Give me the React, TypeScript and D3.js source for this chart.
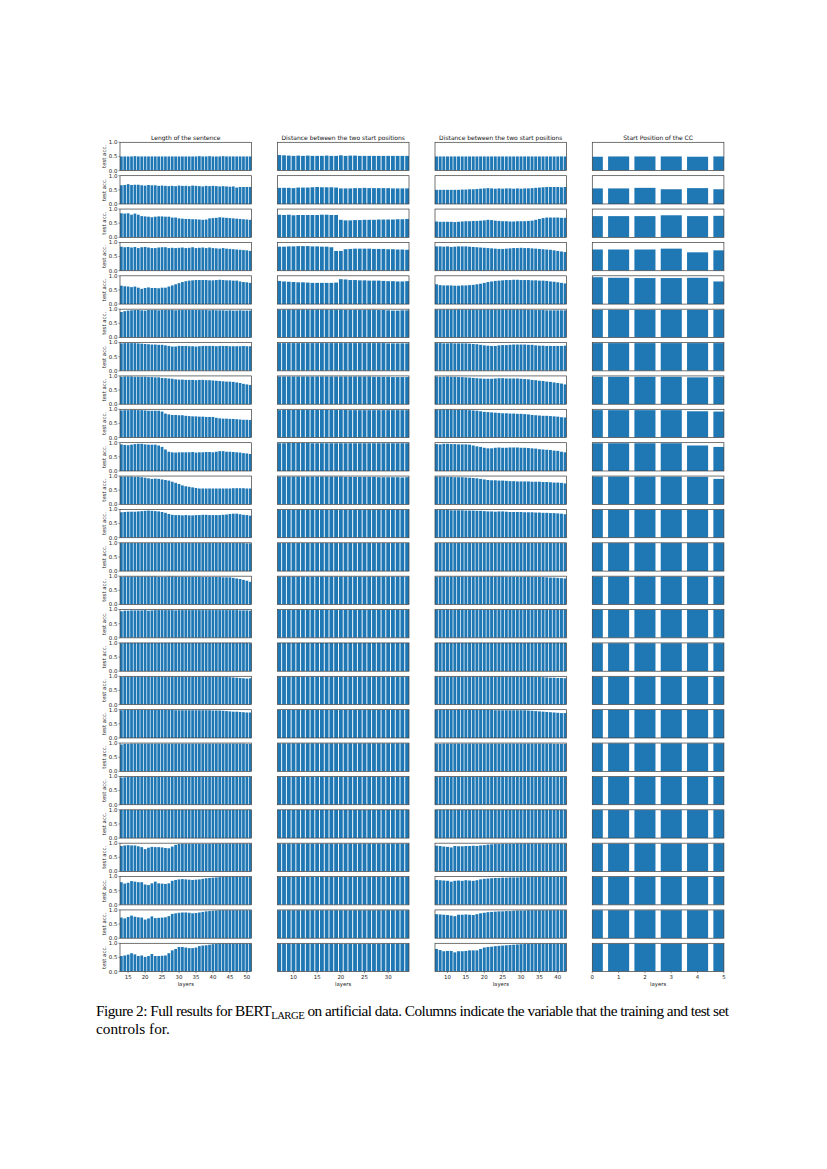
import React from 'react';
import * as d3 from 'd3';

// ---------- categories ----------
const titles = [
  'Length of the sentence',
  'Distance between the two start positions',
  'Distance between the two start positions',
  'Start Position of the CC',
];
const layersLength = [13,14,15,16,17,18,19,20,21,22,23,24,25,26,27,28,29,30,31,32,33,34,35,36,37,38,39,40,41,42,43,44,45,46,47,48,49,50,51];
const layersDistA = [7,8,9,10,11,12,13,14,15,16,17,18,19,20,21,22,23,24,25,26,27,28,29,30,31,32,33,34];
const layersDistB = [7,8,9,10,11,12,13,14,15,16,17,18,19,20,21,22,23,24,25,26,27,28,29,30,31,32,33,34,35,36,37,38,39,40,41,42];
const positionsCC = [0,1,2,3,4,5];

const ticksLength = [15,20,25,30,35,40,45,50];
const ticksDistA = [10,15,20,25,30];
const ticksDistB = [10,15,20,25,30,35,40];
const ticksCC = [0,1,2,3,4,5];
const yTicks = [0, 0.5, 1.0];

// ---------- values (test accuracy, percent) ----------
const accLength: number[][] = [
  [50,50,50,50,51,50,50,50,50,50,50,50,50,50,50,50,50,50,50,50,50,50,50,51,50,50,51,50,50,50,51,50,50,50,50,50,50,50,50],
  [66,67,70,67,68,68,66,65,67,66,66,64,65,64,63,64,63,65,64,64,63,65,64,63,62,64,63,64,63,62,63,62,61,62,58,60,60,60,60],
  [85,84,85,80,84,80,75,74,73,71,73,74,74,73,73,70,70,67,66,65,65,64,64,63,62,63,67,68,69,71,70,69,68,67,66,65,64,63,62],
  [85,83,84,82,84,80,83,84,82,80,80,82,83,83,80,81,80,81,82,80,81,83,80,81,82,80,82,80,79,78,80,78,77,76,75,74,73,72,70],
  [65,63,62,60,62,58,54,57,59,57,57,56,58,58,62,66,70,74,78,81,83,84,85,85,85,85,84,84,85,86,85,84,84,83,83,80,78,77,75],
  [90,93,95,96,97,97,96,95,97,97,97,96,97,97,97,97,96,97,97,97,97,97,97,97,97,97,96,97,96,96,96,95,96,95,95,96,95,95,95],
  [97,98,98,98,98,97,96,95,94,93,93,92,92,90,88,86,86,88,88,88,87,87,86,87,88,88,88,88,87,88,88,88,87,87,87,87,88,87,87],
  [97,98,98,98,97,97,97,97,96,96,95,95,93,92,91,90,88,87,87,86,86,86,85,86,86,85,85,84,83,82,81,80,80,79,77,75,72,70,68],
  [96,97,97,98,98,97,97,96,95,95,95,95,92,85,82,80,80,79,79,77,76,75,75,74,74,73,73,73,70,68,67,67,66,66,65,64,63,63,62],
  [94,92,91,93,95,96,96,94,93,93,93,90,85,76,68,66,65,66,66,66,66,67,65,66,66,67,67,66,68,70,70,68,68,67,66,65,63,62,60],
  [98,98,98,98,97,97,96,94,92,90,91,90,88,86,84,80,76,72,67,64,62,60,58,56,56,56,56,56,56,56,56,56,56,57,57,57,57,56,56],
  [90,91,92,92,92,93,94,95,96,95,94,93,91,88,84,81,80,80,79,80,79,79,80,80,81,81,80,80,80,80,81,82,84,85,85,83,81,80,78],
  [99,99,99,99,99,99,99,99,99,99,99,99,99,99,99,99,99,99,99,99,99,99,99,99,99,99,99,99,99,99,99,99,99,99,99,99,99,98,98],
  [98,99,99,99,99,99,99,99,99,99,99,98,98,98,99,99,99,98,98,98,98,98,98,98,97,97,97,97,97,97,96,96,96,94,92,90,87,84,80],
  [94,96,96,97,97,97,97,98,96,97,98,98,98,98,98,98,97,98,98,98,98,98,98,98,98,98,98,98,98,98,98,98,98,98,98,97,97,97,96],
  [99,100,100,100,100,100,100,100,100,100,100,100,100,100,100,100,100,100,100,100,100,100,100,100,100,100,100,100,100,100,100,100,100,100,100,100,100,100,99],
  [98,99,99,99,99,99,99,99,99,99,99,99,99,99,99,99,99,99,99,99,99,99,99,99,99,99,99,99,99,99,98,98,97,96,95,94,93,92,93],
  [98,99,99,99,99,99,99,99,99,99,99,99,99,99,99,99,98,98,98,98,98,98,98,98,98,98,98,97,97,97,96,95,94,93,93,92,91,90,90],
  [95,97,97,98,98,98,98,98,98,98,98,98,98,98,98,98,98,98,98,98,98,98,98,98,98,98,98,98,98,98,98,98,98,98,98,98,98,97,97],
  [96,97,98,98,99,99,99,99,99,99,99,99,99,99,99,99,99,99,99,99,99,99,99,99,99,99,99,99,99,99,99,99,99,99,99,99,99,99,99],
  [100,100,100,100,100,100,100,100,100,100,100,100,100,100,100,100,100,100,100,100,100,100,100,100,100,100,100,100,100,100,100,100,100,100,100,100,100,100,100],
  [90,92,93,92,92,89,86,79,84,87,86,86,85,83,82,88,94,97,98,98,98,98,98,98,98,98,98,99,99,99,99,99,99,99,99,99,99,99,99],
  [80,75,78,84,82,80,80,72,70,76,82,76,75,74,76,85,88,90,91,90,89,88,89,90,92,94,95,96,97,98,99,99,99,99,99,99,99,99,99],
  [73,70,75,80,76,74,73,66,70,77,71,72,73,74,78,86,88,90,91,91,90,88,89,91,93,95,96,97,98,99,99,99,99,99,99,99,99,99,99],
  [55,57,60,65,61,55,57,52,55,62,55,55,56,57,65,75,80,87,87,85,83,83,85,90,92,93,95,97,98,99,99,99,99,99,99,99,99,99,99],
];

const accDistA: number[][] = [
  [55,54,53,52,53,52,53,52,52,52,53,52,52,54,52,53,53,52,52,52,52,52,52,52,52,52,52,52],
  [57,57,57,56,58,58,58,59,60,59,59,59,58,55,55,55,56,56,57,56,56,56,56,56,55,55,55,55],
  [80,79,80,78,79,79,79,79,79,80,80,79,79,62,60,60,61,61,62,62,62,63,63,63,63,64,64,65],
  [85,85,86,86,87,87,87,86,86,85,85,83,70,70,76,77,78,78,78,78,77,77,77,76,76,75,75,74],
  [82,80,79,78,77,77,76,75,75,75,75,75,76,88,87,85,85,84,84,83,83,83,82,81,81,80,80,81],
  [99,99,99,99,99,99,99,99,99,99,99,99,99,99,98,98,98,98,98,98,98,97,97,96,95,95,96,96],
  [98,98,98,98,98,98,98,98,98,98,98,98,98,98,98,98,98,98,98,98,98,98,98,97,97,97,97,97],
  [98,98,98,98,98,98,98,98,98,98,98,98,98,98,98,98,98,98,98,98,97,97,97,97,96,96,96,96],
  [97,98,98,98,98,98,98,98,98,98,98,98,98,98,98,97,97,97,97,97,97,97,97,97,97,97,97,97],
  [98,98,99,99,99,99,99,98,98,98,98,98,98,98,98,98,98,98,98,98,98,98,98,98,98,98,98,98],
  [98,98,98,98,98,98,98,98,98,98,98,98,98,98,97,97,97,97,97,97,97,96,96,96,96,96,95,96],
  [99,99,99,99,99,99,99,99,99,99,99,99,99,99,99,99,99,99,99,99,99,99,99,99,99,99,99,99],
  [99,99,99,99,99,99,99,99,99,99,99,99,99,99,99,99,99,99,99,99,99,99,99,99,99,99,99,99],
  [99,99,99,99,99,99,99,99,99,99,99,99,99,99,99,99,99,99,99,99,99,99,99,99,99,99,99,99],
  [99,99,99,99,99,99,99,99,99,99,99,99,99,99,99,99,99,99,99,99,99,99,99,99,99,99,99,99],
  [100,100,100,100,100,100,100,100,100,100,100,100,100,100,100,100,100,100,100,100,100,100,100,100,100,100,100,100],
  [99,99,99,99,99,99,99,99,99,99,99,99,99,99,99,99,99,99,99,99,99,99,99,99,99,99,99,99],
  [99,99,99,99,99,99,99,99,99,99,99,99,99,99,99,99,99,99,99,99,99,99,99,99,99,99,99,99],
  [99,99,99,99,99,99,99,99,99,99,99,99,99,99,99,99,99,99,99,99,99,99,99,99,99,99,99,99],
  [99,99,99,99,99,99,99,99,99,99,99,99,99,99,99,99,99,99,99,99,99,99,99,99,99,99,99,99],
  [100,100,100,100,100,100,100,100,100,100,100,100,100,100,100,100,100,100,100,100,100,100,100,100,100,100,100,100],
  [99,99,99,99,99,99,99,99,99,99,99,99,99,99,99,99,99,99,99,99,99,99,99,99,99,99,99,99],
  [99,99,99,99,99,99,99,99,99,99,99,99,99,99,99,99,99,99,99,99,99,99,99,99,99,99,99,99],
  [99,99,99,99,99,99,99,99,99,99,99,99,99,99,99,99,99,99,99,99,99,99,99,99,99,99,99,99],
  [99,99,99,99,99,99,99,99,99,99,99,99,99,98,98,98,98,98,98,98,98,98,99,99,99,99,99,99],
];

const accDistB: number[][] = [
  [50,50,50,50,50,50,50,50,50,50,50,50,50,50,50,50,50,50,50,50,50,50,50,50,50,50,50,50,50,50,50,50,50,50,50,50],
  [50,50,50,50,50,50,50,51,51,52,52,53,54,55,56,55,54,55,54,55,55,54,55,54,55,55,56,57,58,59,60,60,60,60,59,60],
  [56,55,55,55,55,54,55,56,57,57,58,58,59,60,62,61,59,58,57,57,56,56,57,57,57,58,59,62,65,68,70,70,70,70,69,69],
  [86,86,85,86,84,85,86,86,86,85,84,83,82,81,80,79,78,77,77,78,79,80,80,81,80,80,79,78,77,76,75,74,72,70,68,66],
  [70,67,66,66,66,65,65,66,66,67,68,70,72,75,78,80,82,83,84,85,85,86,86,85,85,85,84,84,83,83,82,80,79,77,75,73],
  [99,99,99,99,99,99,99,99,99,99,99,99,99,99,99,99,99,99,99,99,99,99,99,99,99,98,98,97,97,97,96,96,96,96,96,96],
  [98,98,97,97,98,97,97,97,97,96,95,94,92,90,89,88,88,90,91,91,92,93,93,93,93,92,92,90,89,89,88,88,88,88,88,89],
  [98,97,97,98,97,97,96,96,95,94,93,92,91,90,90,90,91,92,92,91,91,91,91,90,89,88,86,85,83,82,80,79,77,75,73,70],
  [98,98,99,99,99,98,98,98,98,97,96,95,93,91,90,89,88,87,86,86,85,85,84,84,83,82,80,79,78,77,77,76,75,74,72,71],
  [95,94,96,96,95,95,94,94,94,93,90,87,85,82,80,80,82,83,82,82,83,83,83,82,82,81,80,79,77,76,75,74,72,71,68,66],
  [98,98,98,97,97,96,96,96,95,94,93,92,90,88,86,85,85,84,84,83,82,82,81,81,81,81,80,80,80,79,79,78,77,77,76,74],
  [98,98,98,98,97,97,97,97,96,96,96,95,95,94,93,93,92,93,93,92,91,91,91,91,90,90,90,89,89,88,88,87,87,86,85,83],
  [99,99,99,99,99,99,99,99,99,99,99,99,99,99,99,99,99,99,99,99,99,99,99,99,99,99,99,99,99,99,99,99,99,99,99,99],
  [98,99,99,99,99,99,99,99,99,99,99,99,99,99,99,99,99,99,99,98,98,98,98,98,98,98,98,98,97,97,96,95,95,94,93,92],
  [99,99,99,99,99,99,99,99,99,99,99,99,99,99,99,99,99,99,99,99,99,99,99,99,99,99,99,99,99,99,99,99,99,99,99,99],
  [100,100,100,100,100,100,100,100,100,100,100,100,100,100,100,100,100,100,100,100,100,100,100,100,100,100,100,100,100,100,100,100,100,100,100,100],
  [99,99,99,99,99,99,99,99,99,99,99,99,99,99,99,99,99,99,99,99,99,99,99,99,99,99,99,98,98,97,96,95,95,94,94,93],
  [99,99,99,99,99,99,99,99,99,99,99,99,99,99,99,99,98,98,98,98,98,98,98,98,98,97,96,95,94,93,92,91,90,89,88,88],
  [97,97,98,98,98,98,98,98,98,98,98,98,98,98,98,98,98,98,98,98,98,98,98,98,98,98,98,98,98,98,98,98,97,97,97,97],
  [99,99,99,99,99,99,99,99,99,99,99,99,99,99,99,99,99,99,99,99,99,99,99,99,99,99,99,99,99,99,99,99,99,99,99,99],
  [100,100,100,100,100,100,100,100,100,100,100,100,100,100,100,100,100,100,100,100,100,100,100,100,100,100,100,100,100,100,100,100,100,100,100,100],
  [91,90,88,87,85,90,89,89,90,90,91,90,92,93,95,96,97,97,98,98,98,98,99,99,99,99,99,99,99,99,99,99,99,99,99,99],
  [88,87,86,85,82,85,86,85,87,86,85,87,90,92,93,94,95,95,96,96,97,97,97,98,98,98,99,99,99,99,99,99,99,99,99,99],
  [85,84,83,82,80,78,83,83,84,83,82,85,88,90,92,93,94,95,95,96,96,97,98,98,98,99,99,99,99,99,99,99,99,99,99,99],
  [80,76,72,73,73,68,72,72,73,75,75,75,80,85,87,88,90,91,92,93,94,95,96,97,98,98,99,99,99,99,99,99,99,99,99,99],
];

const accCC: number[][] = [
  [49,50,50,50,49,50],
  [55,55,57,52,56,52],
  [75,75,75,78,75,76],
  [75,75,75,78,65,72],
  [95,93,92,92,93,80],
  [98,98,98,98,98,98],
  [98,98,98,98,98,98],
  [97,97,97,97,95,97],
  [97,97,97,97,93,92],
  [98,98,98,98,90,85],
  [98,98,98,98,97,90],
  [99,99,99,99,99,99],
  [99,99,99,99,99,99],
  [99,99,99,99,99,99],
  [99,99,99,99,99,99],
  [99,99,99,99,99,99],
  [99,99,99,99,99,99],
  [99,99,99,99,99,99],
  [99,99,99,99,99,99],
  [99,99,99,99,99,99],
  [99,99,99,99,99,99],
  [99,99,99,99,99,99],
  [99,99,99,99,99,99],
  [99,99,99,99,99,99],
  [99,99,99,99,99,99],
];

// ---------- layout ----------
const W = 827;
const H = 1169;
const colLeft = [120, 277.4, 435, 592.3];
const axW = 131.6;
const rowTop0 = 142.3;
const rowPitch = 33.375;
const axH = 28.3;
const BAR = '#1f77b4';
const FONT = 'DejaVu Sans, sans-serif';

type ColSpec = { cats: number[]; vals: number[][]; ticks: number[]; domain: [number, number] };

const columns: ColSpec[] = [
  { cats: layersLength, vals: accLength, ticks: ticksLength, domain: [12.6, 51.4] },
  { cats: layersDistA, vals: accDistA, ticks: ticksDistA, domain: [6.6, 34.4] },
  { cats: layersDistB, vals: accDistB, ticks: ticksDistB, domain: [6.6, 42.4] },
  { cats: positionsCC, vals: accCC, ticks: ticksCC, domain: [0, 5] },
];

export default function App() {
  const nRows = accLength.length;
  const panels: React.ReactNode[] = [];

  columns.forEach((col, ci) => {
    const x = d3.scaleLinear().domain(col.domain).range([colLeft[ci], colLeft[ci] + axW]);
    const bw = 0.8;
    for (let ri = 0; ri < nRows; ri++) {
      const top = rowTop0 + ri * rowPitch;
      const y = d3.scaleLinear().domain([0, 1]).range([top + axH, top]);
      const clipId = `clip-${ci}-${ri}`;
      const row = col.vals[ri];
      panels.push(
        <g key={`p-${ci}-${ri}`}>
          <clipPath id={clipId}>
            <rect x={colLeft[ci]} y={top} width={axW} height={axH} />
          </clipPath>
          <g clipPath={`url(#${clipId})`}>
            {col.cats.map((c, i) => (
              <rect
                key={i}
                x={x(c - bw / 2)}
                y={y(row[i] / 100)}
                width={x(c + bw / 2) - x(c - bw / 2)}
                height={y(0) - y(row[i] / 100)}
                fill={BAR}
              />
            ))}
          </g>
          <rect x={colLeft[ci]} y={top} width={axW} height={axH} fill="none" stroke="#3a3a3a" strokeWidth={0.7} />
          {ci === 0 &&
            yTicks.map((t) => (
              <g key={`yt${t}`}>
                <line x1={colLeft[0] - 1.6} x2={colLeft[0]} y1={y(t)} y2={y(t)} stroke="#3a3a3a" strokeWidth={0.5} />
                <text x={colLeft[0] - 2.6} y={y(t) + 1.9} fontSize={5.4} textAnchor="end" fontFamily={FONT} fill="#222">
                  {t.toFixed(1)}
                </text>
              </g>
            ))}
          {ci === 0 && (
            <text
              transform={`translate(106.2, ${top + axH / 2}) rotate(-90)`}
              fontSize={5.4}
              textAnchor="middle"
              fontFamily={FONT}
              fill="#222"
            >
              test acc.
            </text>
          )}
          {ri === nRows - 1 && (
            <g>
              {col.ticks.map((t) => (
                <g key={`xt${t}`}>
                  <line x1={x(t)} x2={x(t)} y1={top + axH} y2={top + axH + 1.6} stroke="#3a3a3a" strokeWidth={0.5} />
                  <text x={x(t)} y={top + axH + 7.4} fontSize={5.4} textAnchor="middle" fontFamily={FONT} fill="#222">
                    {t}
                  </text>
                </g>
              ))}
              <text x={colLeft[ci] + axW / 2} y={top + axH + 14} fontSize={5.4} textAnchor="middle" fontFamily={FONT} fill="#222">
                layers
              </text>
            </g>
          )}
          {ri === 0 && (
            <text x={colLeft[ci] + axW / 2} y={top - 2.6} fontSize={6} textAnchor="middle" fontFamily={FONT} fill="#111">
              {titles[ci]}
            </text>
          )}
        </g>
      );
    }
  });

  return (
    <svg
      width={W}
      height={H}
      viewBox={`0 0 ${W} ${H}`}
      style={{ position: 'absolute', left: 0, top: 0, background: '#fff' }}
    >
      <rect x={0} y={0} width={W} height={H} fill="#fff" />
      {panels}
      <text x={96} y={1015.5} fontSize={15.3} fontFamily="Liberation Serif, Times New Roman, serif" fill="#000" textLength={633} lengthAdjust="spacing">
        Figure 2: Full results for BERT
        <tspan fontSize={10.7} dy={3.2}>LARGE</tspan>
        <tspan dy={-3.2}> on artificial data. Columns indicate the variable that the training and test set</tspan>
      </text>
      <text x={96} y={1034.2} fontSize={15.3} fontFamily="Liberation Serif, Times New Roman, serif" fill="#000">
        controls for.
      </text>
    </svg>
  );
}
